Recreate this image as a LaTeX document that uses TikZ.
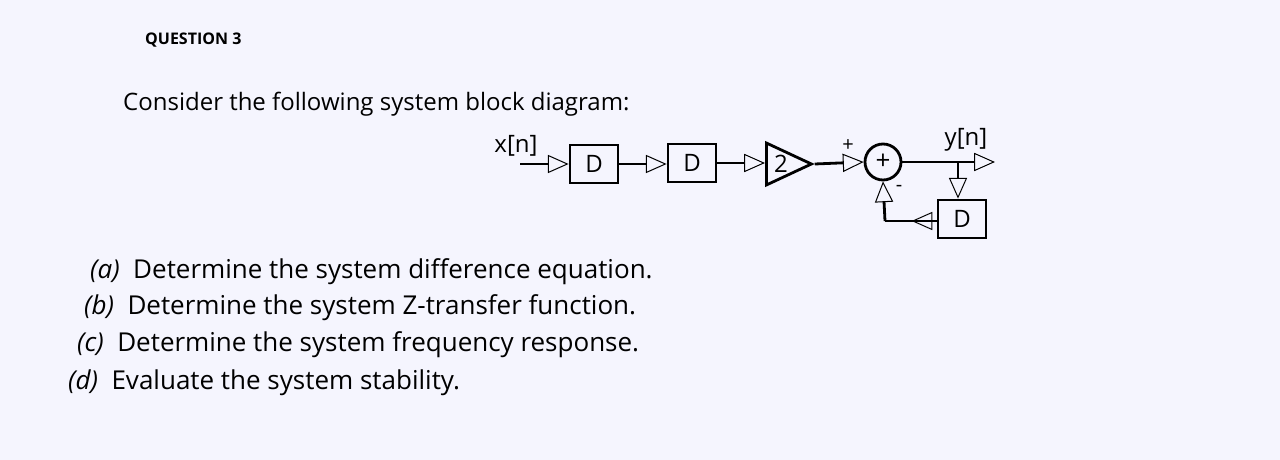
\documentclass[tikz,border=0pt]{standalone}
\usepackage{fontspec}
\setmainfont{Open Sans}
\usetikzlibrary{arrows.meta,shapes.geometric}
\begin{document}
\begin{tikzpicture}[x=1pt,y=-1pt,
  sig/.style={line width=2.8pt,-{Triangle[open,length=8pt,width=7pt,scale=2.6,line width=1pt]}},
  ln/.style={line width=2.8pt},
  blk/.style={draw,line width=2.8pt,minimum width=48pt,minimum height=38pt,inner sep=0pt,font=\fontsize{24}{26}\selectfont},
  txt/.style={anchor=west,inner sep=0pt,font=\fontsize{26}{30}\selectfont}]
\fill[gray!12!blue!4!white] (0,0) rectangle (1280,460);
\useasboundingbox (0,0) rectangle (1280,460);
\node[anchor=west,inner sep=0pt,font=\fontsize{16}{18}\selectfont\bfseries] (q) at (145,40) {QUESTION 3};
\node[anchor=west,inner sep=0pt,font=\fontsize{24}{28}\selectfont] (c) at (123,104) {Consider the following system block diagram:};
\node[txt] (ta) at (90,272) {\textit{(a)}\ \ Determine the system difference equation.};
\node[txt] (tb) at (84,308) {\textit{(b)}\ \ Determine the system Z-transfer function.};
\node[txt] (tc) at (77,345) {\textit{(c)}\ \ Determine the system frequency response.};
\node[txt] (td) at (68,383) {\textit{(d)}\ \ Evaluate the system stability.};
% diagram
\coordinate (in) at (520,164);
\node[font=\fontsize{24}{26}\selectfont,inner sep=0pt] (xn) at (516,146) {x[n]};
\node[blk] (d1) at (594,164) {D};
\node[blk] (d2) at (692,163) {D};
\node[draw,line width=2.8pt,isosceles triangle,isosceles triangle apex angle=50,minimum height=45pt,inner sep=0pt,anchor=west] (g) at (765,164) {};
\node[font=\fontsize{24}{26}\selectfont,inner sep=0pt] (gl) at (781,164) {2};
\node[draw,circle,line width=2.8pt,minimum size=36pt,inner sep=0pt,font=\fontsize{26}{28}\selectfont] (s) at (883,162) {+};
\node[font=\fontsize{20}{22}\selectfont,inner sep=0pt] (pl) at (848,146) {+};
\node[font=\fontsize{20}{22}\selectfont,inner sep=0pt] (mi) at (899,188) {-};
\coordinate (br) at (958,162);
\coordinate (out) at (995,162);
\node[font=\fontsize{24}{26}\selectfont,inner sep=0pt] (yn) at (966,140) {y[n]};
\node[blk] (d3) at (962,219) {D};
\coordinate (fb) at (885,221);
\draw[sig] (in) -- (d1.west);
\draw[sig] (d1.east) -- (d2.west |- d1.east);
\draw[sig] (d2.east) -- (g.west |- d2.east);
\draw[sig] (g.apex) -- (s.west);
\draw[ln] (s.east) -- (br);
\draw[sig] (br) -- (out);
\draw[sig] (br) -- (d3.north -| br);
\draw[ln] (d3.west |- fb) -- (fb);
\draw[sig] (d3.west |- fb) -- ++(-25,0);
\draw[sig] (fb) -- (s.south);
\end{tikzpicture}
\end{document}
